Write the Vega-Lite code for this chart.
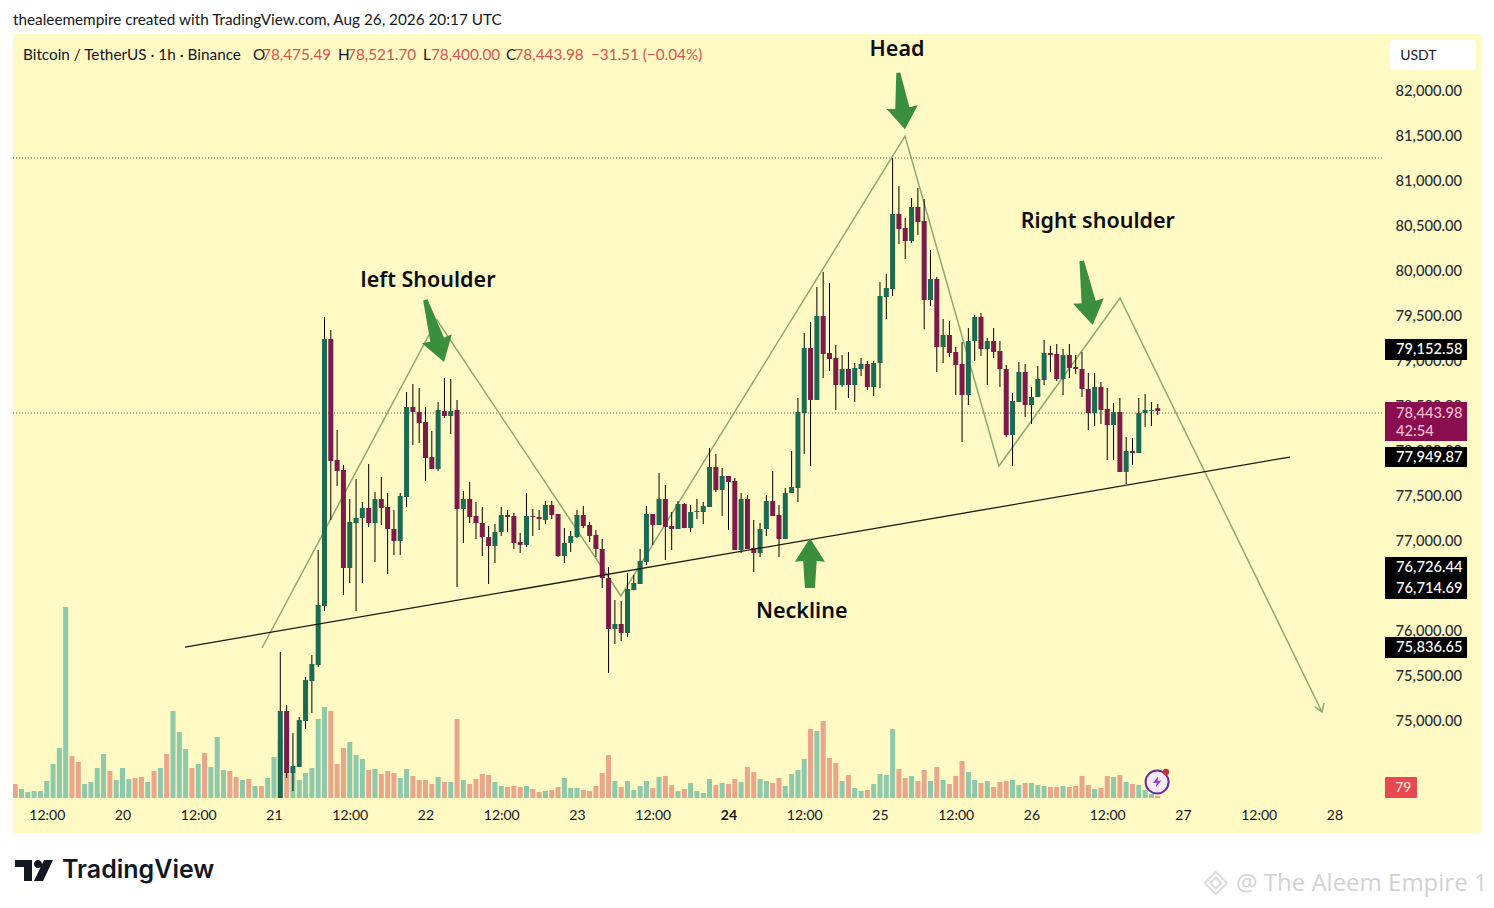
{
  "$schema": "https://vega.github.io/schema/vega-lite/v6.json",
  "width": 1494,
  "height": 908,
  "padding": 0,
  "autosize": "none",
  "background": "#fff9c4",
  "config": {"view": {"stroke": null}, "text": {"font": "Lato", "align": "left", "baseline": "middle"}},
  "datasets": {
    "volume": [
      {"t":7,"v":14,"d":"dn"},{"t":8,"v":9,"d":"up"},{"t":9,"v":6,"d":"up"},{"t":10,"v":7,"d":"up"},{"t":11,"v":7,"d":"up"},{"t":12,"v":17,"d":"up"},{"t":13,"v":34,"d":"up"},{"t":14,"v":50,"d":"up"},{"t":15,"v":191,"d":"up"},{"t":16,"v":42,"d":"dn"},
      {"t":17,"v":36,"d":"dn"},{"t":18,"v":14,"d":"up"},{"t":19,"v":16,"d":"up"},{"t":20,"v":30,"d":"up"},{"t":21,"v":44,"d":"up"},{"t":22,"v":27,"d":"dn"},{"t":23,"v":18,"d":"up"},{"t":24,"v":30,"d":"up"},{"t":25,"v":19,"d":"up"},{"t":26,"v":20,"d":"dn"},
      {"t":27,"v":21,"d":"dn"},{"t":28,"v":16,"d":"up"},{"t":29,"v":27,"d":"dn"},{"t":30,"v":30,"d":"up"},{"t":31,"v":44,"d":"dn"},{"t":32,"v":87,"d":"up"},{"t":33,"v":66,"d":"up"},{"t":34,"v":49,"d":"up"},{"t":35,"v":30,"d":"dn"},{"t":36,"v":34,"d":"up"},
      {"t":37,"v":45,"d":"dn"},{"t":38,"v":31,"d":"up"},{"t":39,"v":61,"d":"up"},{"t":40,"v":28,"d":"up"},{"t":41,"v":27,"d":"dn"},{"t":42,"v":21,"d":"dn"},{"t":43,"v":18,"d":"up"},{"t":44,"v":19,"d":"dn"},{"t":45,"v":12,"d":"up"},{"t":46,"v":12,"d":"dn"},
      {"t":47,"v":20,"d":"up"},{"t":48,"v":41,"d":"up"},{"t":49,"v":60,"d":"up"},{"t":50,"v":30,"d":"dn"},{"t":51,"v":25,"d":"up"},{"t":52,"v":18,"d":"up"},{"t":53,"v":25,"d":"up"},{"t":54,"v":30,"d":"up"},{"t":55,"v":79,"d":"up"},{"t":56,"v":91,"d":"up"},
      {"t":57,"v":87,"d":"dn"},{"t":58,"v":34,"d":"dn"},{"t":59,"v":50,"d":"dn"},{"t":60,"v":56,"d":"up"},{"t":61,"v":43,"d":"up"},{"t":62,"v":39,"d":"up"},{"t":63,"v":28,"d":"dn"},{"t":64,"v":29,"d":"up"},{"t":65,"v":24,"d":"dn"},{"t":66,"v":27,"d":"dn"},
      {"t":67,"v":25,"d":"dn"},{"t":68,"v":20,"d":"up"},{"t":69,"v":29,"d":"up"},{"t":70,"v":22,"d":"dn"},{"t":71,"v":18,"d":"dn"},{"t":72,"v":18,"d":"dn"},{"t":73,"v":14,"d":"dn"},{"t":74,"v":21,"d":"up"},{"t":75,"v":16,"d":"dn"},{"t":76,"v":16,"d":"up"},
      {"t":77,"v":79,"d":"dn"},{"t":78,"v":18,"d":"up"},{"t":79,"v":14,"d":"dn"},{"t":80,"v":19,"d":"dn"},{"t":81,"v":24,"d":"dn"},{"t":82,"v":23,"d":"dn"},{"t":83,"v":16,"d":"up"},{"t":84,"v":12,"d":"up"},{"t":85,"v":11,"d":"dn"},{"t":86,"v":12,"d":"dn"},
      {"t":87,"v":11,"d":"dn"},{"t":88,"v":12,"d":"up"},{"t":89,"v":9,"d":"dn"},{"t":90,"v":6,"d":"dn"},{"t":91,"v":7,"d":"up"},{"t":92,"v":8,"d":"dn"},{"t":93,"v":11,"d":"dn"},{"t":94,"v":20,"d":"up"},{"t":95,"v":10,"d":"up"},{"t":96,"v":10,"d":"up"},
      {"t":97,"v":8,"d":"dn"},{"t":98,"v":7,"d":"dn"},{"t":99,"v":12,"d":"dn"},{"t":100,"v":25,"d":"dn"},{"t":101,"v":43,"d":"dn"},{"t":102,"v":17,"d":"up"},{"t":103,"v":11,"d":"dn"},{"t":104,"v":17,"d":"up"},{"t":105,"v":8,"d":"up"},{"t":106,"v":12,"d":"up"},
      {"t":107,"v":17,"d":"up"},{"t":108,"v":10,"d":"dn"},{"t":109,"v":21,"d":"up"},{"t":110,"v":22,"d":"dn"},{"t":111,"v":13,"d":"dn"},{"t":112,"v":7,"d":"up"},{"t":113,"v":9,"d":"dn"},{"t":114,"v":15,"d":"up"},{"t":115,"v":7,"d":"up"},{"t":116,"v":5,"d":"up"},
      {"t":117,"v":19,"d":"up"},{"t":118,"v":13,"d":"dn"},{"t":119,"v":15,"d":"up"},{"t":120,"v":14,"d":"dn"},{"t":121,"v":19,"d":"dn"},{"t":122,"v":16,"d":"up"},{"t":123,"v":31,"d":"dn"},{"t":124,"v":26,"d":"dn"},{"t":125,"v":19,"d":"up"},{"t":126,"v":17,"d":"up"},
      {"t":127,"v":15,"d":"dn"},{"t":128,"v":20,"d":"dn"},{"t":129,"v":12,"d":"up"},{"t":130,"v":24,"d":"up"},{"t":131,"v":28,"d":"up"},{"t":132,"v":39,"d":"up"},{"t":133,"v":69,"d":"dn"},{"t":134,"v":67,"d":"up"},{"t":135,"v":77,"d":"dn"},{"t":136,"v":40,"d":"dn"},
      {"t":137,"v":35,"d":"dn"},{"t":138,"v":17,"d":"up"},{"t":139,"v":23,"d":"dn"},{"t":140,"v":10,"d":"up"},{"t":141,"v":7,"d":"up"},{"t":142,"v":8,"d":"dn"},{"t":143,"v":14,"d":"up"},{"t":144,"v":24,"d":"up"},{"t":145,"v":23,"d":"up"},{"t":146,"v":69,"d":"up"},
      {"t":147,"v":29,"d":"dn"},{"t":148,"v":20,"d":"dn"},{"t":149,"v":22,"d":"up"},{"t":150,"v":17,"d":"dn"},{"t":151,"v":28,"d":"dn"},{"t":152,"v":17,"d":"up"},{"t":153,"v":31,"d":"dn"},{"t":154,"v":18,"d":"up"},{"t":155,"v":14,"d":"dn"},{"t":156,"v":22,"d":"dn"},
      {"t":157,"v":37,"d":"dn"},{"t":158,"v":26,"d":"up"},{"t":159,"v":18,"d":"up"},{"t":160,"v":15,"d":"dn"},{"t":161,"v":17,"d":"up"},{"t":162,"v":11,"d":"dn"},{"t":163,"v":16,"d":"dn"},{"t":164,"v":17,"d":"dn"},{"t":165,"v":18,"d":"up"},{"t":166,"v":13,"d":"up"},
      {"t":167,"v":15,"d":"dn"},{"t":168,"v":15,"d":"up"},{"t":169,"v":13,"d":"up"},{"t":170,"v":12,"d":"up"},{"t":171,"v":11,"d":"dn"},{"t":172,"v":11,"d":"dn"},{"t":173,"v":12,"d":"up"},{"t":174,"v":11,"d":"dn"},{"t":175,"v":12,"d":"dn"},{"t":176,"v":22,"d":"dn"},
      {"t":177,"v":13,"d":"dn"},{"t":178,"v":9,"d":"up"},{"t":179,"v":10,"d":"dn"},{"t":180,"v":22,"d":"dn"},{"t":181,"v":21,"d":"up"},{"t":182,"v":23,"d":"dn"},{"t":183,"v":16,"d":"up"},{"t":184,"v":14,"d":"dn"},{"t":185,"v":13,"d":"up"},{"t":186,"v":8,"d":"up"},
      {"t":187,"v":4,"d":"up"},{"t":188,"v":2,"d":"dn"}
    ],
    "candles": [
      {"t":49,"o":74144,"h":75767,"l":74144,"c":75111},{"t":50,"o":75111,"h":75178,"l":74367,"c":74422},{"t":51,"o":74422,"h":74866,"l":74222,"c":74500},{"t":52,"o":74489,"h":75044,"l":74489,"c":75011},{"t":53,"o":75000,"h":75488,"l":74911,"c":75455},{"t":54,"o":75444,"h":75733,"l":75089,"c":75633},{"t":55,"o":75622,"h":76900,"l":75600,"c":76289},{"t":56,"o":76278,"h":79489,"l":76222,"c":79245},{"t":57,"o":79245,"h":79344,"l":77233,"c":77889},{"t":58,"o":77900,"h":78233,"l":77611,"c":77778},
      {"t":59,"o":77789,"h":77844,"l":76400,"c":76700},{"t":60,"o":76700,"h":77467,"l":76533,"c":77211},{"t":61,"o":77200,"h":77689,"l":76222,"c":77256},{"t":62,"o":77256,"h":77433,"l":76533,"c":77367},{"t":63,"o":77367,"h":77856,"l":77156,"c":77200},{"t":64,"o":77200,"h":77544,"l":76767,"c":77467},{"t":65,"o":77467,"h":77711,"l":77178,"c":77367},{"t":66,"o":77378,"h":77533,"l":76633,"c":77133},{"t":67,"o":77133,"h":77344,"l":76844,"c":77000},{"t":68,"o":77000,"h":77533,"l":76844,"c":77500},
      {"t":69,"o":77489,"h":78656,"l":77378,"c":78489},{"t":70,"o":78489,"h":78744,"l":78067,"c":78433},{"t":71,"o":78433,"h":78700,"l":78089,"c":78311},{"t":72,"o":78322,"h":78489,"l":77667,"c":77922},{"t":73,"o":77933,"h":78222,"l":77800,"c":77800},{"t":74,"o":77800,"h":78544,"l":77778,"c":78456},{"t":75,"o":78444,"h":78811,"l":78367,"c":78389},{"t":76,"o":78389,"h":78800,"l":78189,"c":78444},{"t":77,"o":78456,"h":78567,"l":76489,"c":77356},{"t":78,"o":77356,"h":77556,"l":76978,"c":77467},
      {"t":79,"o":77467,"h":77656,"l":77200,"c":77267},{"t":80,"o":77278,"h":77433,"l":77022,"c":77200},{"t":81,"o":77200,"h":77378,"l":76833,"c":77044},{"t":82,"o":77044,"h":77167,"l":76522,"c":76944},{"t":83,"o":76944,"h":77189,"l":76756,"c":77100},{"t":84,"o":77100,"h":77378,"l":77056,"c":77289},{"t":85,"o":77289,"h":77344,"l":77100,"c":77267},{"t":86,"o":77278,"h":77311,"l":76911,"c":76978},{"t":87,"o":76989,"h":77089,"l":76867,"c":76956},{"t":88,"o":76956,"h":77533,"l":76933,"c":77278},
      {"t":89,"o":77278,"h":77356,"l":77056,"c":77267},{"t":90,"o":77267,"h":77344,"l":77122,"c":77244},{"t":91,"o":77233,"h":77444,"l":77189,"c":77400},{"t":92,"o":77400,"h":77444,"l":77244,"c":77289},{"t":93,"o":77300,"h":77300,"l":76822,"c":76833},{"t":94,"o":76833,"h":77144,"l":76756,"c":76978},{"t":95,"o":76978,"h":77111,"l":76878,"c":77056},{"t":96,"o":77044,"h":77344,"l":77033,"c":77289},{"t":97,"o":77289,"h":77389,"l":77144,"c":77167},{"t":98,"o":77178,"h":77211,"l":76989,"c":77056},
      {"t":99,"o":77067,"h":77122,"l":76822,"c":76911},{"t":100,"o":76911,"h":77022,"l":76478,"c":76589},{"t":101,"o":76589,"h":76711,"l":75533,"c":76022},{"t":102,"o":76022,"h":76344,"l":75855,"c":76078},{"t":103,"o":76078,"h":76333,"l":75889,"c":75978},{"t":104,"o":75978,"h":76644,"l":75933,"c":76467},{"t":105,"o":76455,"h":76622,"l":76455,"c":76533},{"t":106,"o":76522,"h":76911,"l":76522,"c":76778},{"t":107,"o":76767,"h":77389,"l":76733,"c":77300},{"t":108,"o":77300,"h":77300,"l":76955,"c":77178},
      {"t":109,"o":77178,"h":77756,"l":77178,"c":77467},{"t":110,"o":77467,"h":77622,"l":76789,"c":77156},{"t":111,"o":77167,"h":77322,"l":76900,"c":77133},{"t":112,"o":77133,"h":77444,"l":77133,"c":77411},{"t":113,"o":77411,"h":77422,"l":77144,"c":77144},{"t":114,"o":77144,"h":77400,"l":77100,"c":77322},{"t":115,"o":77322,"h":77467,"l":77244,"c":77333},{"t":116,"o":77322,"h":77433,"l":77189,"c":77389},{"t":117,"o":77378,"h":78033,"l":77378,"c":77822},{"t":118,"o":77822,"h":77967,"l":77544,"c":77567},
      {"t":119,"o":77567,"h":77811,"l":77278,"c":77722},{"t":120,"o":77722,"h":77722,"l":77122,"c":77656},{"t":121,"o":77667,"h":77700,"l":76900,"c":76900},{"t":122,"o":76900,"h":77533,"l":76867,"c":77467},{"t":123,"o":77467,"h":77511,"l":76911,"c":76911},{"t":124,"o":76922,"h":77233,"l":76656,"c":76867},{"t":125,"o":76867,"h":77200,"l":76822,"c":77133},{"t":126,"o":77133,"h":77511,"l":77056,"c":77444},{"t":127,"o":77444,"h":77778,"l":77278,"c":77278},{"t":128,"o":77289,"h":77400,"l":76822,"c":77022},
      {"t":129,"o":77022,"h":77589,"l":77022,"c":77533},{"t":130,"o":77533,"h":78000,"l":77533,"c":77600},{"t":131,"o":77589,"h":78589,"l":77433,"c":78433},{"t":132,"o":78422,"h":79311,"l":77967,"c":79144},{"t":133,"o":79144,"h":79433,"l":77833,"c":78567},{"t":134,"o":78567,"h":79822,"l":78567,"c":79500},{"t":135,"o":79500,"h":79989,"l":78811,"c":79078},{"t":136,"o":79089,"h":79867,"l":78889,"c":79022},{"t":137,"o":79033,"h":79178,"l":78456,"c":78733},{"t":138,"o":78733,"h":79067,"l":78711,"c":78911},
      {"t":139,"o":78911,"h":79100,"l":78589,"c":78733},{"t":140,"o":78733,"h":78978,"l":78544,"c":78922},{"t":141,"o":78911,"h":79033,"l":78833,"c":78967},{"t":142,"o":78967,"h":79000,"l":78678,"c":78711},{"t":143,"o":78711,"h":79000,"l":78611,"c":78978},{"t":144,"o":78978,"h":79878,"l":78700,"c":79722},{"t":145,"o":79711,"h":79967,"l":79467,"c":79811},{"t":146,"o":79800,"h":81256,"l":79722,"c":80633},{"t":147,"o":80633,"h":80944,"l":80300,"c":80467},{"t":148,"o":80478,"h":80589,"l":80133,"c":80333},
      {"t":149,"o":80333,"h":80811,"l":80311,"c":80711},{"t":150,"o":80711,"h":80922,"l":80400,"c":80544},{"t":151,"o":80556,"h":80800,"l":79356,"c":79678},{"t":152,"o":79678,"h":80233,"l":79611,"c":79911},{"t":153,"o":79911,"h":79933,"l":78878,"c":79156},{"t":154,"o":79156,"h":79467,"l":78978,"c":79289},{"t":155,"o":79289,"h":79444,"l":79044,"c":79089},{"t":156,"o":79100,"h":79156,"l":78622,"c":78956},{"t":157,"o":78967,"h":79211,"l":78100,"c":78622},{"t":158,"o":78622,"h":79367,"l":78511,"c":79222},
      {"t":159,"o":79222,"h":79511,"l":79000,"c":79489},{"t":160,"o":79489,"h":79533,"l":79056,"c":79133},{"t":161,"o":79133,"h":79256,"l":78733,"c":79222},{"t":162,"o":79222,"h":79367,"l":79033,"c":79100},{"t":163,"o":79111,"h":79222,"l":78711,"c":78911},{"t":164,"o":78911,"h":78956,"l":78156,"c":78178},{"t":165,"o":78178,"h":78644,"l":77833,"c":78556},{"t":166,"o":78544,"h":78989,"l":78544,"c":78878},{"t":167,"o":78878,"h":78967,"l":78378,"c":78511},{"t":168,"o":78511,"h":78711,"l":78300,"c":78600},
      {"t":169,"o":78600,"h":78944,"l":78600,"c":78800},{"t":170,"o":78789,"h":79233,"l":78733,"c":79089},{"t":171,"o":79089,"h":79167,"l":78878,"c":79067},{"t":172,"o":79078,"h":79189,"l":78778,"c":78800},{"t":173,"o":78800,"h":79133,"l":78622,"c":79067},{"t":174,"o":79067,"h":79189,"l":78811,"c":78922},{"t":175,"o":78933,"h":79067,"l":78856,"c":78911},{"t":176,"o":78911,"h":79100,"l":78600,"c":78689},{"t":177,"o":78689,"h":78867,"l":78233,"c":78422},{"t":178,"o":78422,"h":78867,"l":78278,"c":78711},
      {"t":179,"o":78711,"h":78767,"l":78300,"c":78456},{"t":180,"o":78467,"h":78700,"l":77900,"c":78289},{"t":181,"o":78289,"h":78533,"l":77900,"c":78433},{"t":182,"o":78433,"h":78589,"l":77767,"c":77767},{"t":183,"o":77767,"h":78156,"l":77633,"c":78000},{"t":184,"o":78000,"h":78144,"l":77844,"c":77978},{"t":185,"o":77978,"h":78589,"l":77978,"c":78422},{"t":186,"o":78422,"h":78633,"l":78267,"c":78456},{"t":187,"o":78444,"h":78544,"l":78278,"c":78456},{"t":188,"o":78475.49,"h":78521.7,"l":78400,"c":78443.98}
    ]
  },
  "encoding": {
    "x": {
      "field": "t",
      "type": "quantitative",
      "title": null,
      "scale": {"domain": [4.594, 241.27], "nice": false, "zero": false, "padding": 0},
      "axis": {
        "orient": "bottom",
        "offset": -93,
        "domain": false,
        "ticks": false,
        "grid": false,
        "labelPadding": 0,
        "labelBaseline": "middle",
        "labelFont": "Lato",
        "labelFontSize": 14,
        "labelColor": "#131722",
        "labelOverlap": false,
        "labelFontWeight": {"condition": {"test": "datum.value == 120", "value": "bold"}, "value": "normal"},
        "values": [12,24,36,48,60,72,84,96,108,120,132,144,156,168,180,192,204,216],
        "labelExpr": "datum.value % 24 == 0 ? toString(19 + datum.value / 24) : '12:00'"
      }
    }
  },
  "layer": [
    {
      "data": {"name": "volume"},
      "mark": {"type": "bar", "size": 5},
      "encoding": {
        "y": {"field": "v", "type": "quantitative", "title": null, "axis": null, "scale": {"domain": [-110, 798], "nice": false, "zero": false}},
        "y2": {"datum": 0},
        "color": {"field": "d", "type": "nominal", "legend": null, "scale": {"domain": ["up", "dn"], "range": ["#8fc9ab", "#eaa68b"]}}
      }
    },
    {
      "encoding": {
        "y": {
          "field": "y",
          "type": "quantitative",
          "title": null,
          "scale": {"domain": [72922.2, 83011.1], "nice": false, "zero": false},
          "axis": {
            "orient": "right",
            "offset": -99,
            "domain": false,
            "ticks": false,
            "grid": false,
            "labelPadding": 0,
            "labelOffset": 1,
            "labelFont": "Lato",
            "labelFontSize": 14.7,
            "labelFontWeight": 500,
            "labelColor": "#2a2e39",
            "labelOverlap": false,
            "values": [75000,75500,76000,76500,77000,77500,78000,78500,79000,79500,80000,80500,81000,81500,82000],
            "labelExpr": "format(datum.value, ',.2f')"
          }
        }
      },
      "layer": [
        {
          "data": {"values": [
            {"t": 4.594, "t2": 6.653, "y": 72922.2, "y2": 83011.1},
            {"t": 239.2, "t2": 241.27, "y": 72922.2, "y2": 83011.1},
            {"t": 4.594, "t2": 241.27, "y": 82633, "y2": 83011.1},
            {"t": 4.594, "t2": 241.27, "y": 72922.2, "y2": 73755}
          ]},
          "mark": {"type": "rect", "color": "#ffffff"},
          "encoding": {"x2": {"field": "t2"}, "y2": {"field": "y2"}}
        },
        {
          "data": {"values": [
            {"t": 6.653, "t2": 223.7, "y": 81256},
            {"t": 6.653, "t2": 223.7, "y": 78422}
          ]},
          "mark": {"type": "rule", "color": "#5d5d4a", "strokeDash": [1, 2], "strokeWidth": 1},
          "encoding": {"x2": {"field": "t2"}}
        },
        {
          "data": {"values": [
            {"t": 46.1, "y": 75811},
            {"t": 73.82, "y": 79456},
            {"t": 102.97, "y": 76389},
            {"t": 147.96, "y": 81500},
            {"t": 162.85, "y": 77833},
            {"t": 182.02, "y": 79700},
            {"t": 214.02, "y": 75100}
          ]},
          "mark": {"type": "line", "color": "#8aab6f", "strokeWidth": 1.5}
        },
        {
          "data": {"values": [
            {"t": 212.91, "y": 75156},
            {"t": 214.02, "y": 75100},
            {"t": 214.34, "y": 75200}
          ]},
          "mark": {"type": "line", "color": "#8aab6f", "strokeWidth": 1.5}
        },
        {
          "data": {"name": "candles"},
          "mark": {"type": "rule", "color": "#000000", "strokeWidth": 1},
          "encoding": {
            "y": {"field": "l", "type": "quantitative", "title": null, "scale": {"domain": [72922.2, 83011.1], "nice": false, "zero": false}},
            "y2": {"field": "h"}
          }
        },
        {
          "data": {"name": "candles"},
          "mark": {"type": "bar", "size": 5},
          "encoding": {
            "y": {"field": "o", "type": "quantitative", "title": null, "scale": {"domain": [72922.2, 83011.1], "nice": false, "zero": false}},
            "y2": {"field": "c"},
            "color": {"condition": {"test": "datum.c >= datum.o", "value": "#1b6b52"}, "value": "#7b1b47"}
          }
        },
        {
          "data": {"values": [{"t": 33.9, "y": 75822}, {"t": 208.95, "y": 77933}]},
          "mark": {"type": "line", "color": "#1a1a10", "strokeWidth": 1.3}
        },
        {
          "data": {"values": [{"t": 147.4, "y": 81889}]},
          "mark": {"type": "point", "filled": true, "opacity": 1, "color": "#3a8f3c", "size": 3249, "angle": 173, "shape": "M0 -1 L0.55 -0.22 L0.25 -0.25 L0.06 1 L-0.08 1 L-0.25 -0.25 L-0.55 -0.22 Z"}
        },
        {
          "data": {"values": [{"t": 73.43, "y": 79333}]},
          "mark": {"type": "point", "filled": true, "opacity": 1, "color": "#3a8f3c", "size": 4225, "angle": 163, "shape": "M0 -1 L0.48 -0.25 L0.22 -0.28 L0.06 1 L-0.08 1 L-0.22 -0.28 L-0.48 -0.25 Z"}
        },
        {
          "data": {"values": [{"t": 176.8, "y": 79756}]},
          "mark": {"type": "point", "filled": true, "opacity": 1, "color": "#3a8f3c", "size": 4225, "angle": 170, "shape": "M0 -1 L0.48 -0.25 L0.22 -0.28 L0.06 1 L-0.08 1 L-0.22 -0.28 L-0.48 -0.25 Z"}
        },
        {
          "data": {"values": [{"t": 132.9, "y": 76756}]},
          "mark": {"type": "point", "filled": true, "opacity": 1, "color": "#3a8f3c", "size": 2500, "angle": 0, "shape": "M0 -1 L0.6 -0.05 L0.27 -0.08 L0.2 1 L-0.2 1 L-0.27 -0.08 L-0.6 -0.05 Z"}
        },
        {
          "data": {"values": [
            {"t": 146.7, "y": 82456, "txt": "Head"},
            {"t": 72.4, "y": 79889, "txt": "left Shoulder"},
            {"t": 178.5, "y": 80545, "txt": "Right shoulder"},
            {"t": 131.6, "y": 76211, "txt": "Neckline"}
          ]},
          "mark": {"type": "text", "font": "Noto Sans", "fontSize": 21.5, "fontWeight": 600, "align": "center", "color": "#0d0d0d"},
          "encoding": {"text": {"field": "txt"}}
        },
        {
          "data": {"values": [
            {"t": 224.0, "t2": 237.0, "y": 79244, "y2": 79011},
            {"t": 224.0, "t2": 237.0, "y": 78044, "y2": 77822},
            {"t": 224.0, "t2": 237.0, "y": 76822, "y2": 76355},
            {"t": 224.0, "t2": 237.0, "y": 75933, "y2": 75700}
          ]},
          "mark": {"type": "rect", "color": "#000000"},
          "encoding": {"x2": {"field": "t2"}, "y2": {"field": "y2"}}
        },
        {
          "data": {"values": [{"t": 224.0, "t2": 237.0, "y": 78544, "y2": 78111}]},
          "mark": {"type": "rect", "color": "#880e4f"},
          "encoding": {"x2": {"field": "t2"}, "y2": {"field": "y2"}}
        },
        {
          "data": {"values": [{"t": 224.0, "t2": 229.07, "y": 74378, "y2": 74144}]},
          "mark": {"type": "rect", "color": "#e8484f", "cornerRadius": 1},
          "encoding": {"x2": {"field": "t2"}, "y2": {"field": "y2"}}
        },
        {
          "data": {"values": [{"t": 224.8, "t2": 238.4, "y": 82567, "y2": 82233}]},
          "mark": {"type": "rect", "color": "#ffffff", "cornerRadius": 3},
          "encoding": {"x2": {"field": "t2"}, "y2": {"field": "y2"}}
        },
        {
          "data": {"values": [
            {"t": 225.75, "y": 79125, "txt": "79,152.58"},
            {"t": 225.75, "y": 77925, "txt": "77,949.87"},
            {"t": 225.75, "y": 76703, "txt": "76,726.44"},
            {"t": 225.75, "y": 76470, "txt": "76,714.69"},
            {"t": 225.75, "y": 75814, "txt": "75,836.65"}
          ]},
          "mark": {"type": "text", "fontSize": 14.7, "fontWeight": 500, "color": "#ffffff"},
          "encoding": {"text": {"field": "txt"}}
        },
        {
          "data": {"values": [
            {"t": 225.75, "y": 78414, "txt": "78,443.98"},
            {"t": 225.75, "y": 78214, "txt": "42:54"}
          ]},
          "mark": {"type": "text", "fontSize": 14.7, "fontWeight": 500, "color": "#f8bbd0"},
          "encoding": {"text": {"field": "txt"}}
        },
        {
          "data": {"values": [{"t": 226.9, "y": 74261, "txt": "79"}]},
          "mark": {"type": "text", "fontSize": 14, "fontWeight": 500, "align": "center", "color": "#fde0e0"},
          "encoding": {"text": {"field": "txt"}}
        },
        {
          "data": {"values": [{"t": 226.4, "y": 82392, "txt": "USDT"}]},
          "mark": {"type": "text", "fontSize": 14, "color": "#131722"},
          "encoding": {"text": {"field": "txt"}}
        },
        {
          "data": {"values": [{"t": 6.653, "y": 82790, "txt": "thealeemempire created with TradingView.com, Aug 26, 2026 20:17 UTC"}]},
          "mark": {"type": "text", "fontSize": 15.3, "color": "#131722"},
          "encoding": {"text": {"field": "txt"}}
        },
        {
          "data": {"values": [
            {"t": 8.24, "y": 82403, "txt": "Bitcoin / TetherUS · 1h · Binance"},
            {"t": 44.67, "y": 82403, "txt": "O"},
            {"t": 58.14, "y": 82403, "txt": "H"},
            {"t": 71.6, "y": 82403, "txt": "L"},
            {"t": 84.76, "y": 82403, "txt": "C"}
          ]},
          "mark": {"type": "text", "fontSize": 15.3, "color": "#131722"},
          "encoding": {"text": {"field": "txt"}}
        },
        {
          "data": {"values": [
            {"t": 46.1, "y": 82403, "txt": "78,475.49"},
            {"t": 59.57, "y": 82403, "txt": "78,521.70"},
            {"t": 72.87, "y": 82403, "txt": "78,400.00"},
            {"t": 86.1, "y": 82403, "txt": "78,443.98"},
            {"t": 98.2, "y": 82403, "txt": "−31.51 (−0.04%)"}
          ]},
          "mark": {"type": "text", "fontSize": 15.3, "color": "#d9534f"},
          "encoding": {"text": {"field": "txt"}}
        },
        {
          "data": {"values": [{"t": 187.9, "y": 74322}]},
          "mark": {"type": "point", "shape": "circle", "filled": true, "opacity": 1, "size": 531, "fill": "#f5eafa", "stroke": "#6a2c91", "strokeWidth": 2}
        },
        {
          "data": {"values": [{"t": 187.9, "y": 74322}]},
          "mark": {"type": "point", "filled": true, "opacity": 1, "color": "#8e3cc4", "size": 196, "shape": "M0.15 -0.8 L-0.6 0.15 L-0.05 0.1 L-0.2 0.8 L0.6 -0.2 L0.05 -0.15 Z"}
        },
        {
          "data": {"values": [{"t": 189.3, "y": 74433}]},
          "mark": {"type": "point", "shape": "circle", "filled": true, "opacity": 1, "size": 40, "color": "#c62f3d"}
        },
        {
          "data": {"values": [{"t": 9.98, "y": 73339}]},
          "mark": {"type": "point", "filled": true, "opacity": 1, "color": "#131722", "size": 1444, "shape": "M-1 -0.553 L-0.105 -0.553 L-0.105 0.553 L-0.526 0.553 L-0.526 -0.184 L-1 -0.184 Z M0.42 -0.34 A0.21 0.21 0 1 1 0 -0.34 A0.21 0.21 0 1 1 0.42 -0.34 Z M0.526 -0.553 L1 -0.553 L0.474 0.553 L0 0.553 Z"}
        },
        {
          "data": {"values": [{"t": 14.42, "y": 73339, "txt": "TradingView"}]},
          "mark": {"type": "text", "font": "Inter", "fontSize": 25, "fontWeight": 600, "color": "#131722"},
          "encoding": {"text": {"field": "txt"}}
        },
        {
          "data": {"values": [{"t": 200.4, "y": 73189, "txt": "@ The Aleem Empire 1"}]},
          "mark": {"type": "text", "font": "Open Sans", "fontSize": 24, "color": "#d2d2d2"},
          "encoding": {"text": {"field": "txt"}}
        },
        {
          "data": {"values": [{"t": 197.2, "y": 73200}]},
          "mark": {"type": "point", "shape": "diamond", "filled": false, "opacity": 1, "size": 500, "stroke": "#dcdcdc", "strokeWidth": 2}
        },
        {
          "data": {"values": [{"t": 197.2, "y": 73200}]},
          "mark": {"type": "point", "shape": "diamond", "filled": false, "opacity": 1, "size": 120, "stroke": "#dcdcdc", "strokeWidth": 2}
        }
      ]
    }
  ],
  "resolve": {"scale": {"y": "independent"}, "axis": {"y": "independent"}}
}
